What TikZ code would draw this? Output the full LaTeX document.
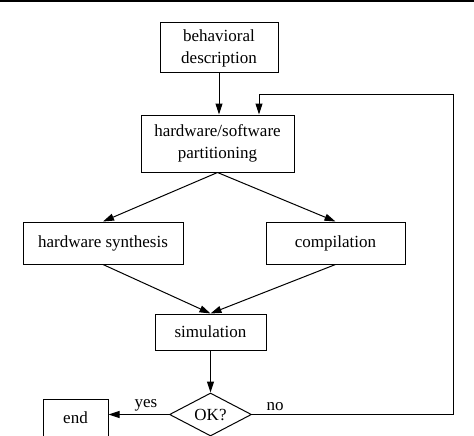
\documentclass[tikz,border=0pt]{standalone}
\usepackage{fontspec}
\setmainfont{Liberation Serif}
\usetikzlibrary{shapes, shapes.geometric, arrows.meta, positioning}

\begin{document}
\begin{tikzpicture}[x=1pt, y=-1pt, ->, >={Triangle[length=11pt,width=7pt]}, line width=1pt,
    every node/.style={font=\fontsize{17}{22}\selectfont},
    block/.style={draw, rectangle, align=center, inner sep=0pt},
    decision/.style={draw, diamond, aspect=2, inner sep=0pt, minimum width=82pt, minimum height=43pt}]
    \useasboundingbox (0,0) rectangle (474,436);
    \fill (0,0) rectangle (474,2.5);

    \node[block, minimum width=118pt, minimum height=50pt] (Behavioral)   at (219,48)    {behavioral\\description};
    \node[block, minimum width=153pt, minimum height=57pt] (Partitioning) at (217.5,143.5) {hardware/software\\partitioning};
    \node[block, minimum width=160pt, minimum height=42pt] (HwSynthesis)  at (103,243)   {hardware synthesis};
    \node[block, minimum width=139pt, minimum height=42pt] (Compilation)  at (335.5,243) {compilation};
    \node[block, minimum width=111pt, minimum height=36pt] (Simulation)   at (210.5,332) {simulation};
    \node[decision]                                        (Decision)     at (210.5,414.5) {OK?};
    \node[block, minimum width=65pt, minimum height=38pt]  (End)          at (75.5,418)  {end};
    \coordinate (LoopCorner) at (453,94);

    \path
    (Behavioral.south)
    edge (Behavioral.south |- Partitioning.north)
    (Partitioning.south)
    edge (HwSynthesis.north)
    edge (Compilation.north)
    (HwSynthesis.south)
    edge (Simulation.north)
    (Compilation.south)
    edge (Simulation.north)
    (Simulation)
    edge (Decision)
    (Decision.west)
    edge node[above, pos=0.38] {yes} (Decision.west -| End.east);

    \draw (Decision.east) -- node[above, pos=0.115] {no} (LoopCorner |- Decision.east)
        -- (LoopCorner) -| ([xshift=41.5pt]Partitioning.north);

\end{tikzpicture}
\end{document}
